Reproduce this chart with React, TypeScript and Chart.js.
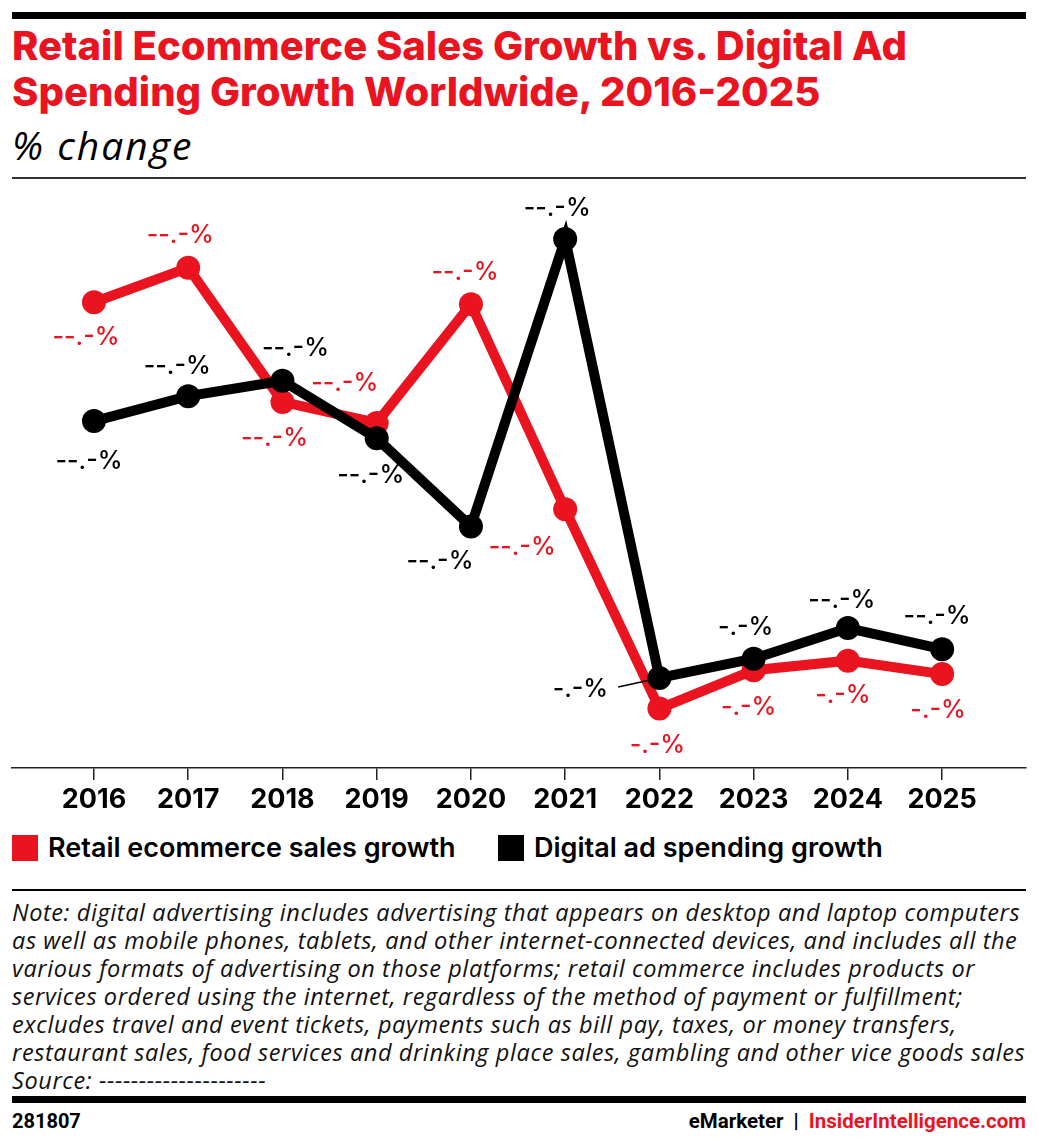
import React, { useEffect, useRef } from "react";
import { Chart, registerables } from "chart.js";

Chart.register(...registerables);

const years = [2016, 2017, 2018, 2019, 2020, 2021, 2022, 2023, 2024, 2025];
const retailGrowth = [26.2, 28.0, 21.0, 19.9, 26.1, 15.4, 5.0, 7.0, 7.5, 6.8];
const adGrowth = [20.0, 21.3, 22.1, 19.1, 14.5, 29.5, 6.6, 7.6, 9.2, 8.1];
const retailLabels = ["--.-%", "--.-%", "--.-%", "--.-%", "--.-%", "--.-%", "-.-%", "-.-%", "-.-%", "-.-%"];
const adLabels = ["--.-%", "--.-%", "--.-%", "--.-%", "--.-%", "--.-%", "-.-%", "-.-%", "--.-%", "--.-%"];
const seriesNames = ["Retail ecommerce sales growth", "Digital ad spending growth"];

const RED = "#e9141f";
const BLACK = "#000000";

// label placement offsets (style config)
const retailOffsets = [[-8, 35], [-8, -32], [-8, 37], [-32, -39], [-6, -32], [-43, 38], [-2, 37], [-5, 37], [-5, 35], [-4, 36]];
const adOffsets = [[-5, 40], [-11, -30], [13, -32], [-6, 37], [-31, 35], [-8, -30], [-79, 12], [-8, -31], [-6, -28], [-5, -33]];
const adLeader = [false, false, false, false, false, false, true, false, false, false];

const noteLines = [
  "Note: digital advertising includes advertising that appears on desktop and laptop computers",
  "as well as mobile phones, tablets, and other internet-connected devices, and includes all the",
  "various formats of advertising on those platforms; retail commerce includes products or",
  "services ordered using the internet, regardless of the method of payment or fulfillment;",
  "excludes travel and event tickets, payments such as bill pay, taxes, or money transfers,",
  "restaurant sales, food services and drinking place sales, gambling and other vice goods sales",
  "Source: ---------------------",
];

const FONT = "Inter, Lato, sans-serif";
const NOTE_FONT = "'Open Sans', Lato, sans-serif";

const labelPlugin = {
  id: "pointLabels",
  afterDatasetsDraw(chart: any) {
    const ctx = chart.ctx;
    ctx.save();
    ctx.font = `500 25px ${FONT}`;
    ctx.textAlign = "center";
    ctx.textBaseline = "middle";
    chart.data.datasets.forEach((ds: any, di: number) => {
      const meta = chart.getDatasetMeta(di);
      meta.data.forEach((el: any, i: number) => {
        const [dx, dy] = ds.labelOffsets[i];
        const lx = el.x + dx;
        const ly = el.y + dy;
        ctx.fillStyle = ds.borderColor;
        ctx.fillText(ds.pointLabels[i], lx, ly);
        if (ds.leader && ds.leader[i]) {
          const w = ctx.measureText(ds.pointLabels[i]).width;
          ctx.strokeStyle = "#000";
          ctx.lineWidth = 1.5;
          ctx.beginPath();
          ctx.moveTo(lx + w / 2 + 10, ly - 3);
          ctx.lineTo(el.x, el.y);
          ctx.stroke();
        }
      });
    });
    ctx.restore();
  },
};

function LineChart() {
  const ref = useRef<HTMLCanvasElement | null>(null);
  useEffect(() => {
    if (!ref.current) return;
    const chart = new Chart(ref.current, {
      type: "line",
      data: {
        datasets: [
          {
            label: seriesNames[0],
            data: years.map((y, i) => ({ x: y, y: retailGrowth[i] })),
            borderColor: RED,
            backgroundColor: RED,
            borderWidth: 10,
            pointRadius: 12,
            pointBackgroundColor: RED,
            pointBorderWidth: 0,
            order: 1,
            pointLabels: retailLabels,
            labelOffsets: retailOffsets,
          } as any,
          {
            label: seriesNames[1],
            data: years.map((y, i) => ({ x: y, y: adGrowth[i] })),
            borderColor: BLACK,
            backgroundColor: BLACK,
            borderWidth: 10,
            pointRadius: 12,
            pointBackgroundColor: BLACK,
            pointBorderWidth: 0,
            order: 0,
            pointLabels: adLabels,
            labelOffsets: adOffsets,
            leader: adLeader,
          } as any,
        ],
      },
      options: {
        animation: false,
        responsive: false,
        maintainAspectRatio: false,
        layout: { padding: { left: 12, right: 12, top: 10, bottom: 0 } },
        plugins: { legend: { display: false }, tooltip: { enabled: false } },
        scales: {
          x: {
            type: "linear",
            min: 2015.13,
            max: 2025.89,
            afterBuildTicks: (s: any) => {
              s.ticks = years.map((v) => ({ value: v }));
            },
            afterFit: (s: any) => {
              s.height = 62;
            },
            ticks: {
              callback: (v: any) => String(v),
              color: "#000",
              font: { family: FONT, size: 27, weight: "bold" },
              padding: 4,
              maxRotation: 0,
              autoSkip: false,
            },
            grid: {
              drawOnChartArea: false,
              drawTicks: true,
              tickLength: 12,
              color: "#222",
              lineWidth: 1.5,
            },
            border: { display: true, color: "#222", width: 1.5 },
          },
          y: {
            display: false,
            min: 1.9,
            max: 31.95,
          },
        },
      },
      plugins: [labelPlugin],
    } as any);
    return () => chart.destroy();
  }, []);
  return <canvas ref={ref} width={1038} height={650} style={{ position: "absolute", left: 0, top: 180, width: 1038, height: 650 }} />;
}

export default function App() {
  const abs = (s: React.CSSProperties): React.CSSProperties => ({ position: "absolute", ...s });
  return (
    <div style={{ position: "absolute", left: 0, top: 0, width: 1038, height: 1145, background: "#fff", fontFamily: FONT }}>
      <div style={abs({ left: 12, top: 12, width: 1014, height: 7, background: "#000" })} />
      <div style={abs({ left: 12, top: 23, color: RED, fontWeight: 800, fontSize: 40, lineHeight: "46px", whiteSpace: "nowrap" })}>
        Retail Ecommerce Sales Growth vs. Digital Ad
        <br />
        Spending Growth Worldwide, 2016-2025
      </div>
      <div style={abs({ left: 12, top: 124, fontFamily: NOTE_FONT, fontStyle: "italic", fontSize: 39, letterSpacing: 2, lineHeight: "42px", color: "#000" })}>% change</div>
      <div style={abs({ left: 12, top: 177, width: 1014, height: 2, background: "#333" })} />
      <LineChart />
      <div style={abs({ left: 12, top: 835, width: 26, height: 26, background: RED })} />
      <div style={abs({ left: 48, top: 831, fontSize: 27, fontWeight: 600, lineHeight: "34px", color: "#000", whiteSpace: "nowrap" })}>{seriesNames[0]}</div>
      <div style={abs({ left: 498, top: 835, width: 26, height: 26, background: BLACK })} />
      <div style={abs({ left: 534, top: 831, fontSize: 27, fontWeight: 600, lineHeight: "34px", color: "#000", whiteSpace: "nowrap" })}>{seriesNames[1]}</div>
      <div style={abs({ left: 12, top: 889, width: 1014, height: 2, background: "#000" })} />
      <div style={abs({ left: 12, top: 898, fontFamily: NOTE_FONT, fontStyle: "italic", fontSize: 23.5, letterSpacing: 0.6, lineHeight: "28px", color: "#111", whiteSpace: "nowrap" })}>
        {noteLines.map((l, i) => (
          <div key={i}>{l}</div>
        ))}
      </div>
      <div style={abs({ left: 12, top: 1096, width: 1014, height: 7, background: "#000" })} />
      <div style={abs({ left: 12, top: 1110, fontFamily: "'Liberation Sans Narrow', Roboto, sans-serif", fontWeight: 700, fontSize: 20, lineHeight: "22px", color: "#000" })}>281807</div>
      <div style={abs({ right: 12, top: 1110, fontFamily: "'Liberation Sans Narrow', Roboto, sans-serif", fontWeight: 700, fontSize: 20.5, lineHeight: "22px", whiteSpace: "nowrap" })}>
        <span style={{ color: "#000" }}>eMarketer</span>
        <span style={{ color: "#000", margin: "0 10px" }}>|</span>
        <span style={{ color: RED }}>InsiderIntelligence.com</span>
      </div>
    </div>
  );
}
